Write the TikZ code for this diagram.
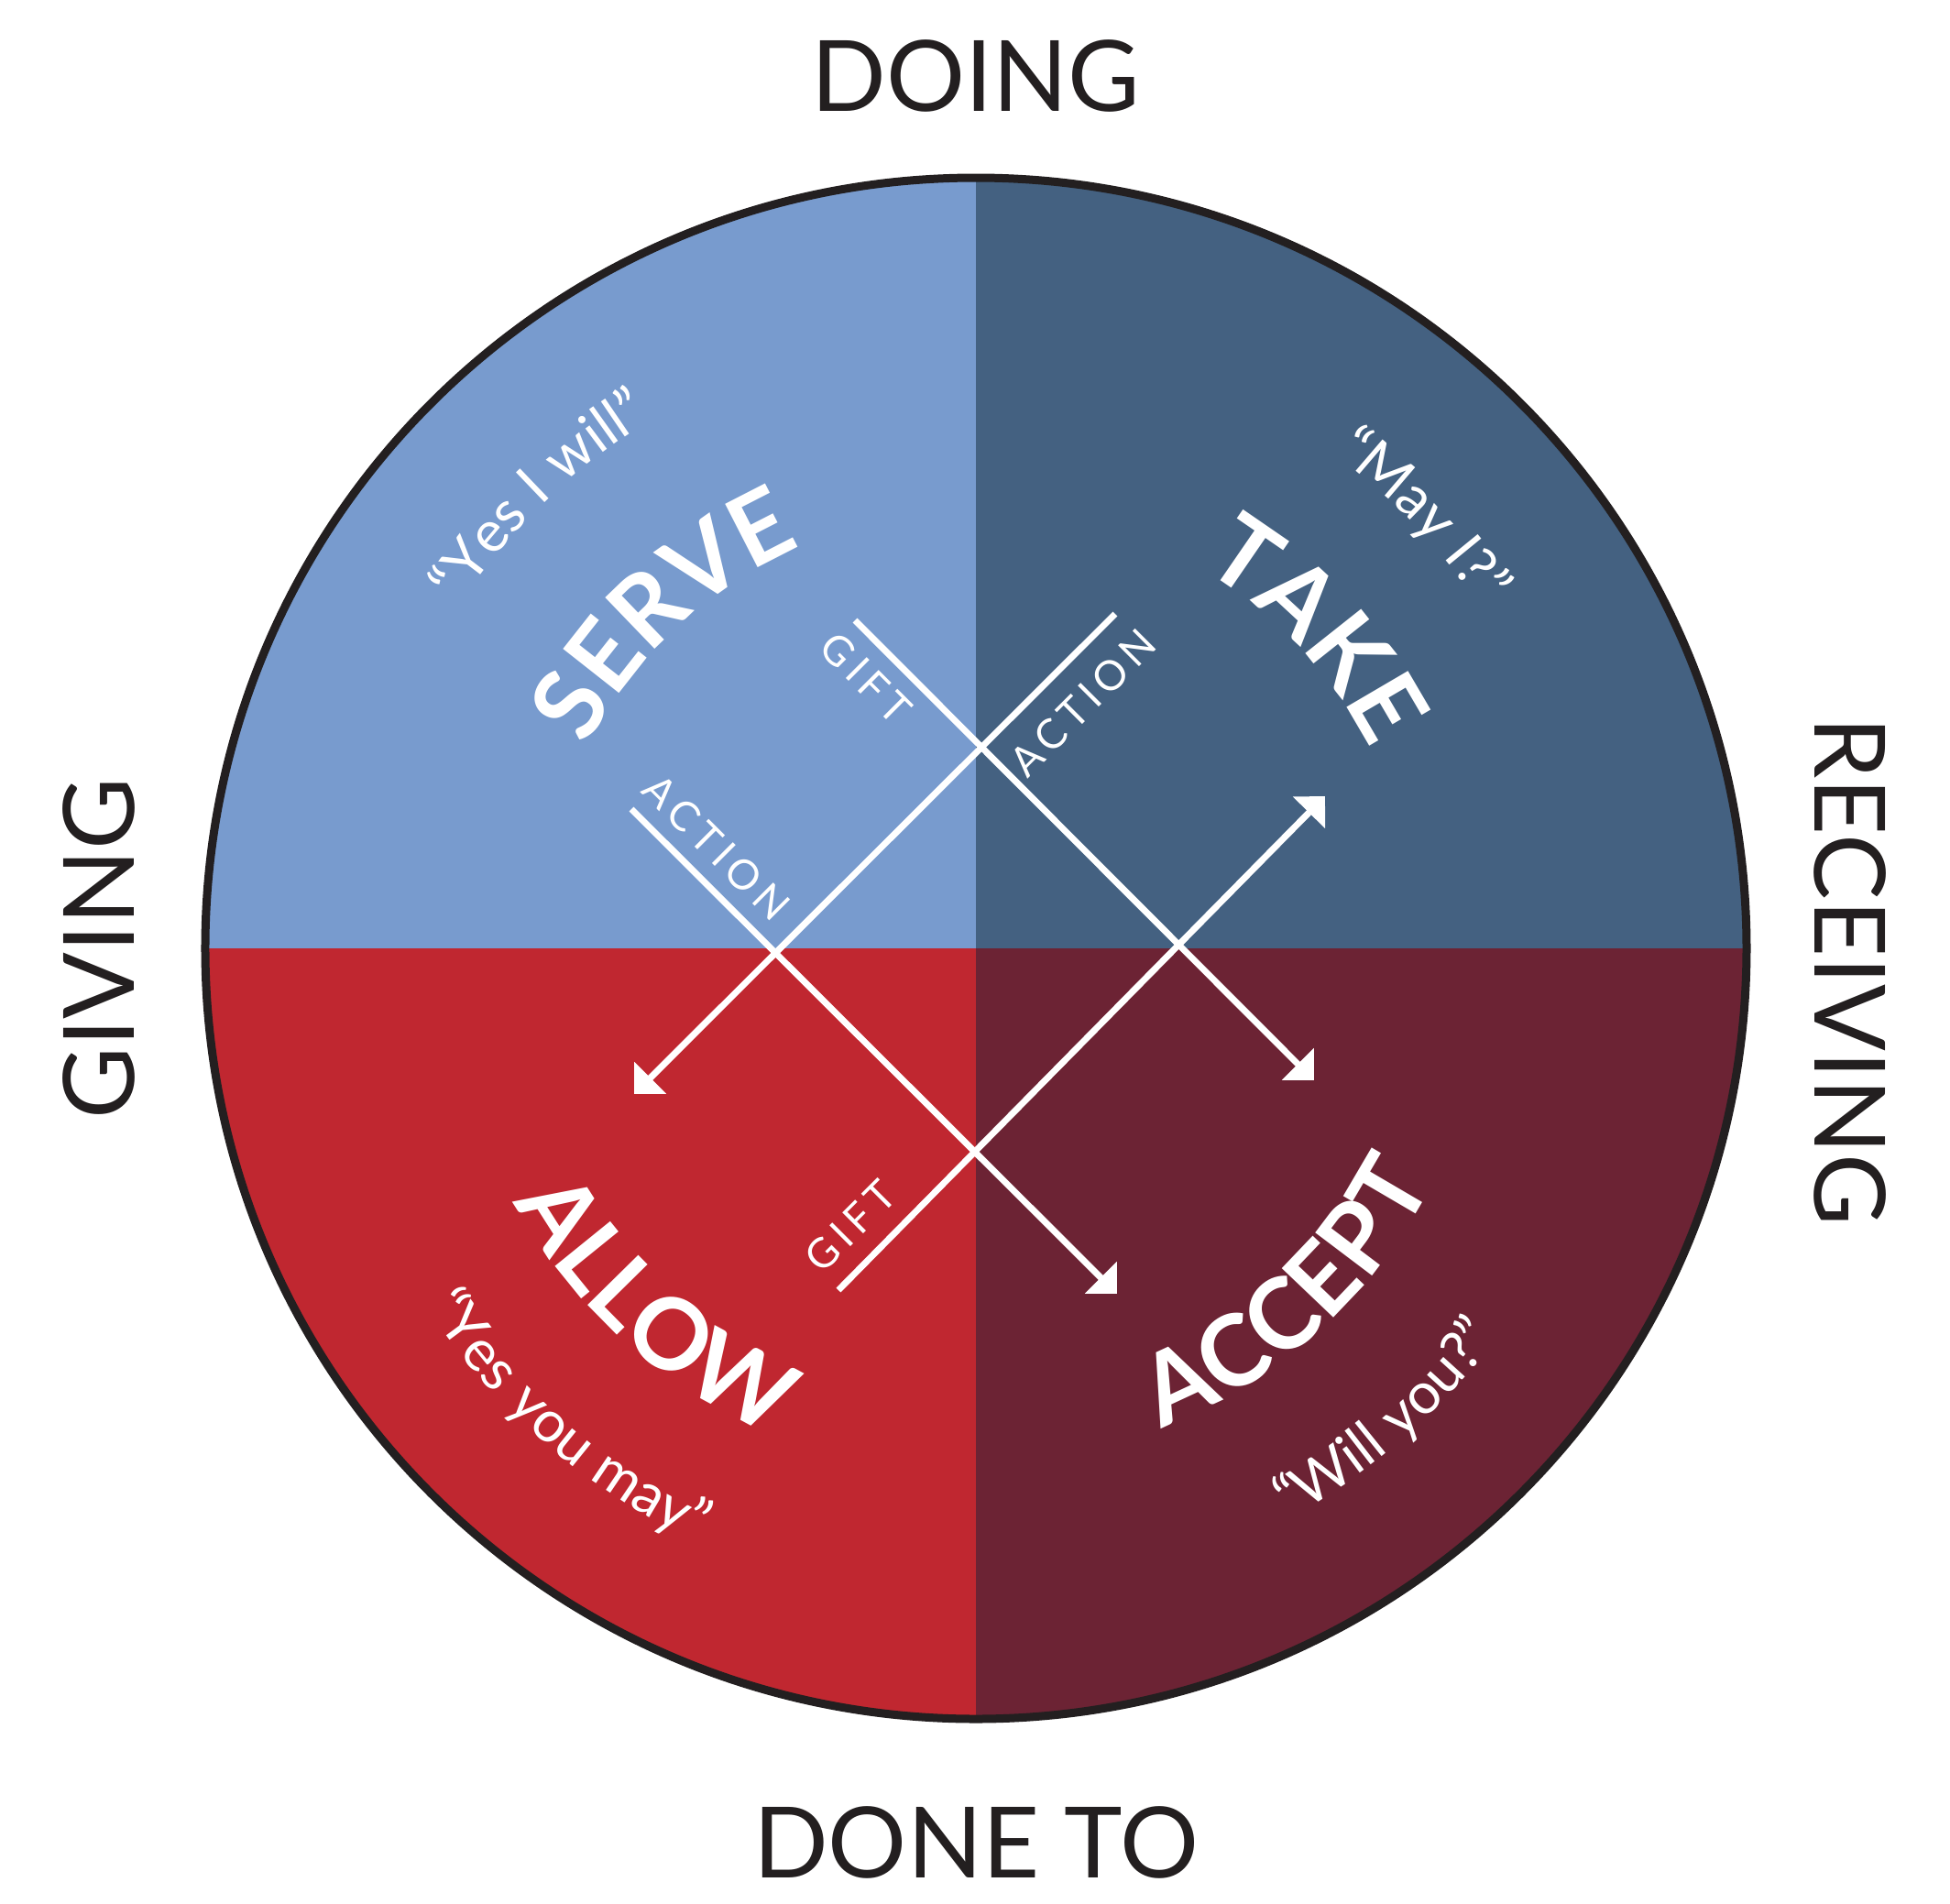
\documentclass[tikz,border=0pt]{standalone}
\usepackage{fontspec}
\setmainfont{Lato}
\newfontfamily\wordfont[LetterSpace=6]{Lato Bold}
\newfontfamily\quotefont[LetterSpace=2]{Lato}
\newfontfamily\tagfont[LetterSpace=15]{Lato}
\usetikzlibrary{arrows.meta,decorations.text}
\definecolor{ServeBlue}{RGB}{120,155,206}
\definecolor{TakeSlate}{RGB}{68,97,129}
\definecolor{AllowRed}{RGB}{192,39,48}
\definecolor{AcceptWine}{RGB}{108,35,52}
\definecolor{InkDark}{RGB}{35,31,32}
\newcommand{\axisfs}{\fontsize{30.6}{36}\selectfont}
\newcommand{\wordfs}{\fontsize{30.6}{36}\selectfont}
\newcommand{\quotefs}{\fontsize{17.9}{22}\selectfont}
\newcommand{\tagfs}{\fontsize{12.8}{15}\selectfont}

\begin{document}
\begin{tikzpicture}[
    axis/.style={inner sep=0pt, text=InkDark, font=\axisfs},
    tag/.style={inner sep=0pt, text=white, font=\tagfont\tagfs},
    flow/.style={draw=white, line width=0.07cm},
    flowarrow/.style={flow, -{Triangle[length=2.5mm,width=4.8mm]}},
    wordpath/.style={decorate, decoration={text along path, text align=center,
        text color=white, text={|\wordfont\wordfs|#1}}},
    quotepath/.style={decorate, decoration={text along path, text align=center,
        text color=white, text={|\quotefont\quotefs|#1}}}]
  \useasboundingbox (-10.65,-10.42) rectangle (10.63,10.35);

  % quadrants
  \fill[ServeBlue] (0,0) -- (90:8.41) arc[start angle=90, end angle=180, radius=8.41] -- cycle;
  \fill[TakeSlate] (0,0) -- (0:8.41) arc[start angle=0, end angle=90, radius=8.41] -- cycle;
  \fill[AllowRed] (0,0) -- (180:8.41) arc[start angle=180, end angle=270, radius=8.41] -- cycle;
  \fill[AcceptWine] (0,0) -- (270:8.41) arc[start angle=270, end angle=360, radius=8.41] -- cycle;
  \draw[InkDark, line width=0.09cm] (0,0) circle[radius=8.41];

  % axis labels
  \node[axis] (doing) at (0,9.52) {DOING};
  \node[axis] (doneto) at (0,-9.76) {DONE TO};
  \node[axis, rotate=90] (giving) at (-9.57,0) {GIVING};
  \node[axis, rotate=-90] (receiving) at (9.54,-0.25) {RECEIVING};

  % the four crossing lines
  \coordinate (giftA0) at (-1.32,3.58);
  \coordinate (giftA1) at (3.69,-1.44);
  \coordinate (actB0) at (1.52,3.65);
  \coordinate (actB1) at (-3.73,-1.59);
  \coordinate (actC0) at (-3.76,1.52);
  \coordinate (actC1) at (1.54,-3.77);
  \coordinate (giftD0) at (-1.50,-3.73);
  \coordinate (giftD1) at (3.81,1.66);
  \draw[flowarrow] (giftA0) -- (giftA1);
  \draw[flowarrow] (actB0) -- (actB1);
  \draw[flowarrow] (actC0) -- (actC1);
  \draw[flowarrow] (giftD0) -- (giftD1);

  \node[tag, rotate=-45] (giftup) at (-1.20,2.95) {GIFT};
  \node[tag, rotate=45] (actup) at (1.17,2.68) {ACTION};
  \node[tag, rotate=-45] (actleft) at (-2.83,1.10) {ACTION};
  \node[tag, rotate=45] (giftlow) at (-1.37,-3.03) {GIFT};

  % words on arcs
  \path[wordpath=SERVE] (173:4.78) arc[start angle=173, end angle=93, radius=4.78];
  \path[wordpath=TAKE] (83:4.82) arc[start angle=83, end angle=3, radius=4.82];
  \path[wordpath=ALLOW] (188:5.75) arc[start angle=188, end angle=268, radius=5.75];
  \path[wordpath=ACCEPT] (272:5.61) arc[start angle=272, end angle=352, radius=5.61];

  \path[quotepath={“Yes I will”}] (174:6.77) arc[start angle=174, end angle=94, radius=6.77];
  \path[quotepath={“May I?”}] (84:6.65) arc[start angle=84, end angle=4, radius=6.65];
  \path[quotepath={“Yes you may”}] (189:7.16) arc[start angle=189, end angle=269, radius=7.16];
  \path[quotepath={“Will you?”}] (271:7.10) arc[start angle=271, end angle=351, radius=7.10];
\end{tikzpicture}
\end{document}
